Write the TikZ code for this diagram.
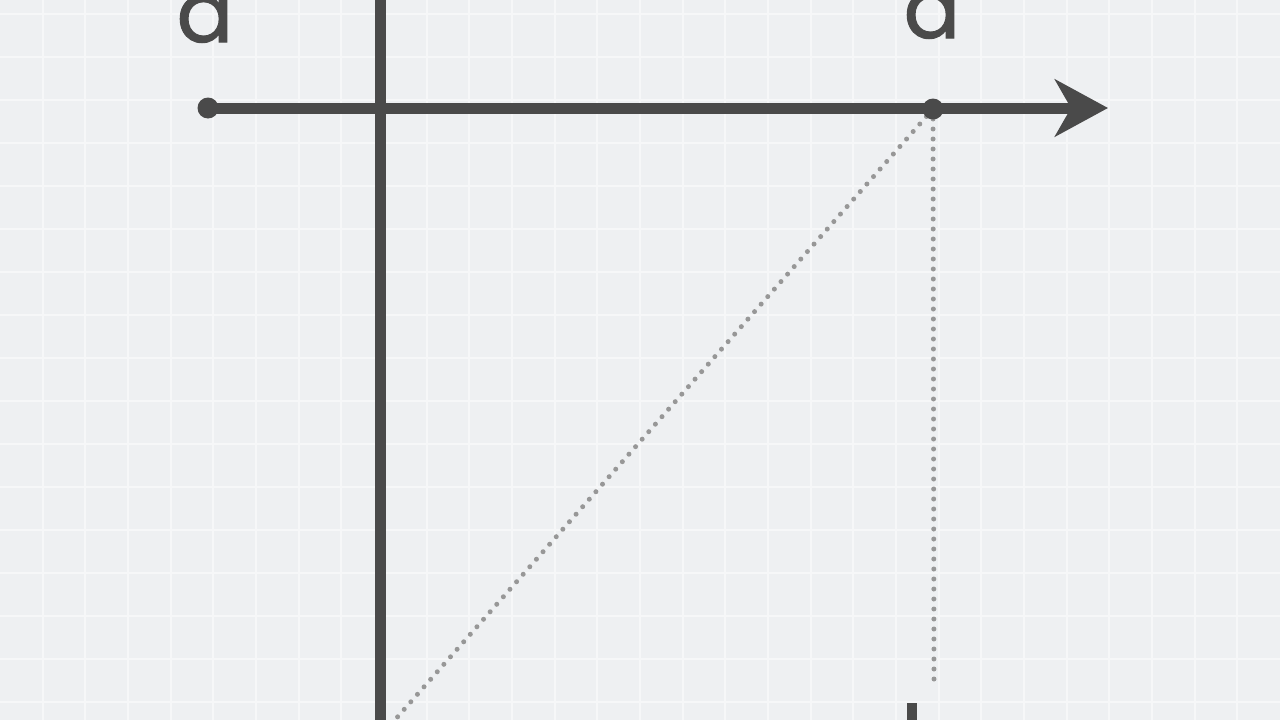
\documentclass[tikz,border=0pt]{standalone}
\usepackage{fontspec}
\setmainfont{Poppins}[FakeBold=1.2]
\usetikzlibrary{arrows.meta}
\definecolor{axisgray}{HTML}{4A4A4A}
\definecolor{dotgray}{HTML}{979797}
\definecolor{paper}{HTML}{EEF0F2}
\definecolor{gridline}{HTML}{F6F7F8}
\tikzset{
  axis/.style={line width=11pt, draw=axisgray},
  guide/.style={line width=5pt, draw=dotgray, dash pattern=on 0pt off 10pt, line cap=round},
  pointdot/.style={circle, fill=axisgray, inner sep=0pt, minimum size=21pt},
  lbl/.style={text=axisgray, font=\fontsize{84}{84}\selectfont, inner sep=0pt, anchor=base},
}
\begin{document}
\begin{tikzpicture}[x=1pt,y=-1pt,>=Stealth]
\useasboundingbox (0,0) rectangle (1280,720);
\clip (0,0) rectangle (1280,720);
\fill[paper] (0,0) rectangle (1280,720);
% grid
\foreach \i in {1,...,29} \draw[gridline,line width=2pt] (42.67*\i,0)--(42.67*\i,720);
\foreach \j in {0,...,16} \draw[gridline,line width=2pt] (0,13.6+43*\j)--(1280,13.6+43*\j);
% points
\coordinate (L) at (208,108);
\coordinate (P) at (933,109);
\coordinate (E) at (1108,108);
\coordinate (T) at (380,-20);
\coordinate (B) at (380,740);
\coordinate (F) at (386,730);
\coordinate (G) at (934,684);
% dotted guides
\draw[guide] (P)--(F);
\draw[guide] (P)--(G);
% axes
\draw[axis] (T)--(B);
\draw[axis,-{Stealth[length=53pt,width=57pt,inset=16pt]}] (L)--(E);
\node[pointdot] (l) at (L) {};
\node[pointdot] (p) at (P) {};
% labels
\node[lbl] (al) at (205,42) {a};
\node[lbl] (ap) at (932,38) {a};
\fill[axisgray] (907,703) rectangle (917,725);
\end{tikzpicture}
\end{document}
